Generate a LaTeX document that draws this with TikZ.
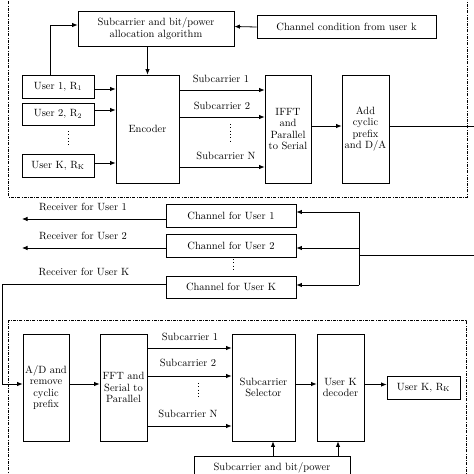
\documentclass[tikz,border=0pt]{standalone}
\usetikzlibrary{arrows.meta}
\begin{document}
\begin{tikzpicture}[x=1pt,y=-1pt,
  font=\fontsize{10.5}{11.5}\selectfont,
  blk/.style={draw,line width=0.8pt,align=center,inner sep=1pt},
  arr/.style={line width=0.8pt,-{Latex[length=5.5pt,width=4.5pt]}},
  ln/.style={line width=0.8pt},
  frame/.style={line width=0.6pt,dash pattern=on 3pt off 1.4pt on 0.6pt off 1.4pt},
  lbl/.style={inner sep=0pt},
  vdl/.style={line width=0.9pt,dash pattern=on 0.9pt off 2.4pt}]
\useasboundingbox (0,0) rectangle (474,474);
\clip (0,0) rectangle (474,474);
% frames
\draw[frame] (8,-5) rectangle (467,197);
\draw[frame] (8,320) rectangle (466,490);
% transmitter
\node[blk,minimum width=156pt,minimum height=35pt] (alloc) at (156,28.5) {Subcarrier and bit/power\\allocation algorithm};
\node[blk,minimum width=179pt,minimum height=23pt] (chan) at (346.5,27) {Channel condition from user k};
\node[blk,minimum width=72pt,minimum height=23pt] (u1) at (58,86.5) {User 1, R$_1$};
\node[blk,minimum width=72pt,minimum height=22pt] (u2) at (58,114) {User 2, R$_2$};
\node[blk,minimum width=72pt,minimum height=23pt] (uk) at (58,165.5) {User K, R$_\mathrm{K}$};
\node[blk,minimum width=63pt,minimum height=108pt] (enc) at (147.5,129) {Encoder};
\node[blk,minimum width=46pt,minimum height=108pt] (ifft) at (288,129) {IFFT\\and\\Parallel\\to Serial};
\node[blk,minimum width=47pt,minimum height=108pt] (add) at (365.5,129) {Add\\cyclic\\prefix\\and D/A};
\coordinate (txout) at (474,126);
\draw[arr] (chan.west) -- ([yshift=2pt]alloc.east);
\draw[arr] ([xshift=-8pt]u1.north) |- ([yshift=3.5pt]alloc.west);
\draw[arr] (alloc.south -| enc.north) -- (enc.north);
\draw[arr] ([yshift=-2.5pt]u1.east) -- ([yshift=-2.5pt]u1.east -| enc.west);
\draw[arr] ([yshift=4pt]u2.east) -- ([yshift=4pt]u2.east -| enc.west);
\draw[arr] ([yshift=2.5pt]uk.east) -- ([yshift=2.5pt]uk.east -| enc.west);
\draw[vdl] (68,131) -- (68,147);
\draw[arr] ([yshift=39pt]enc.east) -- ([yshift=39pt]enc.east -| ifft.west);
\draw[arr] ([yshift=12pt]enc.east) -- ([yshift=12pt]enc.east -| ifft.west);
\draw[arr] ([yshift=-38pt]enc.east) -- ([yshift=-38pt]enc.east -| ifft.west);
\node[lbl] (s1) at (221,79) {Subcarrier 1};
\node[lbl] (s2) at (222,106) {Subcarrier 2};
\node[lbl] (sn) at (226,156) {Subcarrier N};
\draw[vdl] (230,124) -- (230,141);
\draw[arr] ([yshift=3pt]ifft.east) -- ([yshift=3pt]ifft.east -| add.west);
\draw[ln] ([yshift=3pt]add.east) -- (txout);
% channels
\node[blk,minimum width=130pt,minimum height=23pt] (ch1) at (231,215.5) {Channel for User 1};
\node[blk,minimum width=130pt,minimum height=23pt] (ch2) at (231,245.5) {Channel for User 2};
\node[blk,minimum width=130pt,minimum height=22pt] (chk) at (231,287) {Channel for User K};
\draw[vdl] (233,259) -- (233,271);
\coordinate (rin) at (474,255);
\coordinate (jn) at (359,255);
\coordinate (jt) at (359,212);
\coordinate (jb) at (359,285);
\draw[ln] (rin) -- (jn);
\draw[ln] (jt) -- (jb);
\draw[arr] (jt) -- (jt -| ch1.east);
\draw[arr] (359,248) -- (359,248 -| ch2.east);
\draw[arr] (jb) -- (jb -| chk.east);
\coordinate (r1) at (22,219);
\coordinate (r2) at (22,248);
\coordinate (rk) at (2,284);
\draw[arr] (r1 -| ch1.west) -- (r1);
\draw[arr] (r2 -| ch2.west) -- (r2);
\node[lbl] (rl1) at (83,207) {Receiver for User 1};
\node[lbl] (rl2) at (83,236) {Receiver for User 2};
\node[lbl] (rlk) at (84,272) {Receiver for User K};
% receiver
\node[blk,minimum width=46pt,minimum height=107pt] (ad) at (46,387.5) {A/D and\\remove\\cyclic\\prefix};
\node[blk,minimum width=47pt,minimum height=107pt] (fft) at (123.5,387.5) {FFT and\\Serial to\\Parallel};
\node[blk,minimum width=63pt,minimum height=107pt] (sel) at (263.5,387.5) {Subcarrier\\Selector};
\node[blk,minimum width=47pt,minimum height=107pt] (dec) at (340.5,387.5) {User K\\decoder};
\node[blk,minimum width=73pt,minimum height=23pt] (uko) at (423.5,387.5) {User K, R$_\mathrm{K}$};
\node[blk,minimum width=156pt,minimum height=35pt,anchor=north,text depth=14pt] (alloc2) at (272,456) {Subcarrier and bit/power};
\draw[ln] (rk -| chk.west) -- (rk);
\draw[arr] (rk) |- ([yshift=3.5pt]ad.west);
\draw[arr] ([yshift=3.5pt]ad.east) -- ([yshift=3.5pt]ad.east -| fft.west);
\draw[arr] ([yshift=39.5pt]fft.east) -- ([yshift=39.5pt]fft.east -| sel.west);
\draw[arr] ([yshift=11.5pt]fft.east) -- ([yshift=11.5pt]fft.east -| sel.west);
\draw[arr] ([yshift=-38.5pt]fft.east) -- ([yshift=-38.5pt]fft.east -| sel.west);
\node[lbl] (b1) at (190,337) {Subcarrier 1};
\node[lbl] (b2) at (188,363) {Subcarrier 2};
\node[lbl] (bn) at (188,414) {Subcarrier N};
\draw[vdl] (198,383) -- (198,399);
\draw[arr] ([yshift=3.5pt]sel.east) -- ([yshift=3.5pt]sel.east -| dec.west);
\draw[arr] ([yshift=3pt]dec.east) -- ([yshift=3pt]dec.east -| uko.west);
\draw[arr] (alloc2.north -| 273,0) -- (sel.south -| 273,0);
\draw[arr] (alloc2.north -| 338,0) -- (dec.south -| 338,0);
\end{tikzpicture}
\end{document}
